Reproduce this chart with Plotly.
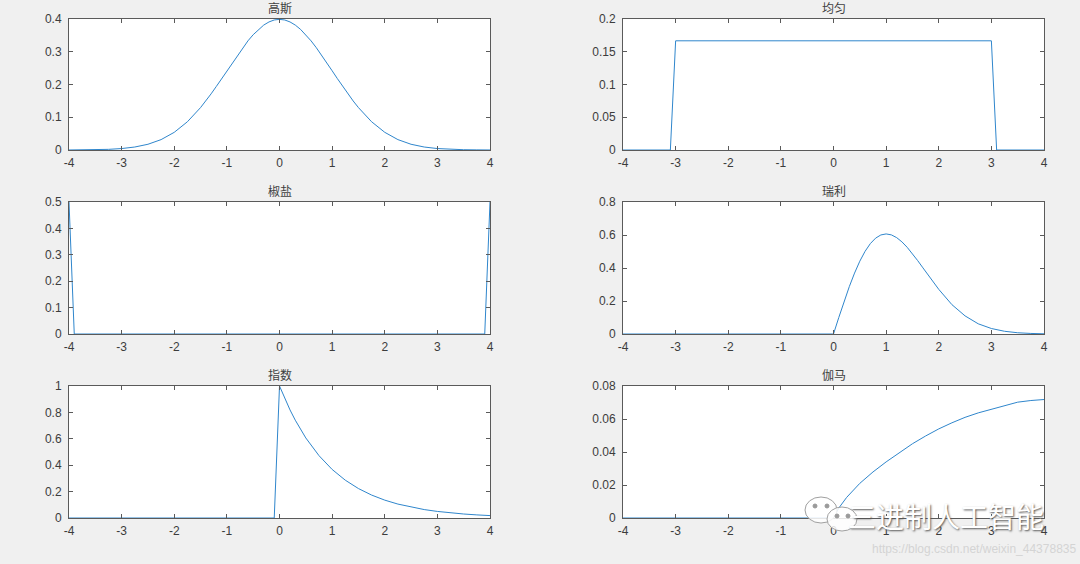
import plotly.graph_objects as go
from plotly.subplots import make_subplots

# ---- data ----
titles = ["高斯", "均匀", "椒盐", "瑞利", "指数", "伽马"]

gauss_x = [-4, -3.75, -3.5, -3.25, -3, -2.75, -2.5, -2.25, -2, -1.75, -1.5, -1.4, -1.3,
           -1.2, -1.1, -1, -0.9, -0.8, -0.7, -0.6, -0.5, -0.4, -0.3, -0.2, -0.1, 0,
           0.1, 0.2, 0.3, 0.4, 0.5, 0.6, 0.7, 0.8, 0.9, 1, 1.1, 1.2, 1.3, 1.4, 1.5,
           1.75, 2, 2.25, 2.5, 2.75, 3, 3.25, 3.5, 3.75, 4]
gauss_y = [0.0001, 0.0004, 0.0009, 0.002, 0.0044, 0.0091, 0.0175, 0.0317, 0.054, 0.0863,
           0.1295, 0.1497, 0.1714, 0.1942, 0.2179, 0.242, 0.2661, 0.2897, 0.3123, 0.3332,
           0.3521, 0.3683, 0.3814, 0.391, 0.397, 0.3989,
           0.397, 0.391, 0.3814, 0.3683, 0.3521, 0.3332, 0.3123, 0.2897, 0.2661, 0.242,
           0.2179, 0.1942, 0.1714, 0.1497, 0.1295,
           0.0863, 0.054, 0.0317, 0.0175, 0.0091, 0.0044, 0.002, 0.0009, 0.0004, 0.0001]

unif_x = [-4, -3.1, -3, 3, 3.1, 4]
unif_y = [0, 0, 0.1667, 0.1667, 0, 0]

salt_x = [-4, -3.9, 3.9, 4]
salt_y = [0.5, 0, 0, 0.5]

rayl_x = [-4, 0, 0.1, 0.2, 0.3, 0.4, 0.5, 0.6, 0.7, 0.8, 0.9, 1, 1.1, 1.2, 1.3, 1.4, 1.5,
          1.6, 1.7, 1.8, 1.9, 2, 2.25, 2.5, 2.75, 3, 3.25, 3.5, 3.75, 4]
rayl_y = [0, 0, 0.0995, 0.196, 0.2869, 0.3692, 0.4412, 0.5012, 0.5479, 0.5809, 0.6003,
          0.6065, 0.6007, 0.5842, 0.5585, 0.5254, 0.487, 0.4448, 0.4007, 0.3562, 0.3125,
          0.2707, 0.1779, 0.1098, 0.0618, 0.0333, 0.0165, 0.0076, 0.0034, 0.0013]

expo_x = [-4, -0.1, 0, 0.1, 0.2, 0.3, 0.4, 0.5, 0.75, 1, 1.25, 1.5, 1.75, 2, 2.25, 2.5,
          2.75, 3, 3.25, 3.5, 3.75, 4]
expo_y = [0, 0, 1, 0.9048, 0.8187, 0.7408, 0.6703, 0.6065, 0.4724, 0.3679, 0.2865, 0.2231,
          0.1738, 0.1353, 0.1054, 0.0821, 0.0639, 0.0498, 0.0388, 0.0302, 0.0235, 0.0183]

gamma_x = [-4, 0, 0.1, 0.25, 0.5, 0.75, 1, 1.25, 1.5, 1.75, 2, 2.25, 2.5, 2.75, 3, 3.25,
           3.5, 3.75, 4]
gamma_y = [0, 0, 0.006, 0.0125, 0.021, 0.0279, 0.034, 0.0397, 0.045, 0.0497, 0.054,
           0.0577, 0.061, 0.0637, 0.066, 0.0683, 0.0702, 0.0712, 0.0718]

x_ticks = [-4, -3, -2, -1, 0, 1, 2, 3, 4]
x_tick_text = ["-4", "-3", "-2", "-1", "0", "1", "2", "3", "4"]

y_ranges = [[0, 0.4], [0, 0.2], [0, 0.5], [0, 0.8], [0, 1], [0, 0.08]]
y_dticks = [0.1, 0.05, 0.1, 0.2, 0.2, 0.02]

series = [(gauss_x, gauss_y), (unif_x, unif_y), (salt_x, salt_y),
          (rayl_x, rayl_y), (expo_x, expo_y), (gamma_x, gamma_y)]

# ---- figure ----
W, H = 1080, 564
fig = make_subplots(rows=3, cols=2)

col_px = [(69, 490), (623, 1044)]
row_px = [(19, 150), (202, 334), (386, 518)]

axis_col = "#5a5a5a"
tick_font = dict(family="Liberation Sans, Arial, sans-serif", size=12, color="#3c3c3c")

for i, (xs, ys) in enumerate(series):
    r, c = i // 2 + 1, i % 2 + 1
    fig.add_trace(
        go.Scatter(x=xs, y=ys, mode="lines",
                   line=dict(color="#2f86cc", width=1), showlegend=False,
                   hoverinfo="skip"),
        row=r, col=c,
    )
    x0, x1 = col_px[c - 1]
    top, bot = row_px[r - 1]
    fig.update_xaxes(
        domain=[x0 / W, x1 / W], range=[-4, 4],
        tickvals=x_ticks, ticktext=x_tick_text,
        showline=True, linecolor=axis_col, linewidth=1, mirror="allticks",
        ticks="inside", ticklen=4, tickcolor=axis_col, tickfont=tick_font,
        ticklabelstandoff=2,
        showgrid=False, zeroline=False, automargin=False,
        row=r, col=c,
    )
    fig.update_yaxes(
        domain=[1 - bot / H, 1 - top / H], range=y_ranges[i],
        tick0=0, dtick=y_dticks[i],
        showline=True, linecolor=axis_col, linewidth=1, mirror="allticks",
        ticks="inside", ticklen=4, tickcolor=axis_col, tickfont=tick_font,
        ticklabelstandoff=4,
        showgrid=False, zeroline=False, automargin=False,
        row=r, col=c,
    )
    fig.add_annotation(
        text=titles[i], xref="paper", yref="paper",
        x=(x0 + x1) / 2 / W, y=1 - top / H + 1 / H,
        xanchor="center", yanchor="bottom", showarrow=False,
        font=dict(family="Noto Sans CJK SC", size=12, color="#404040"),
    )

# watermark: WeChat-like bubbles (with eyes), brand text and url
def px_circle(cx, cy, rx, ry, fill, line_col):
    fig.add_shape(type="circle", xref="paper", yref="paper",
                  x0=(cx - rx) / W, x1=(cx + rx) / W,
                  y0=1 - (cy + ry) / H, y1=1 - (cy - ry) / H,
                  fillcolor=fill, line=dict(color=line_col, width=1))

px_circle(821, 510, 16, 13, "rgba(255,255,255,0.85)", "#a0a0a0")
px_circle(815, 506, 2, 2, "#9a9a9a", "#9a9a9a")
px_circle(827, 506, 2, 2, "#9a9a9a", "#9a9a9a")
px_circle(842, 519, 15, 12, "rgba(255,255,255,0.85)", "#a0a0a0")
px_circle(837, 516, 2, 2, "#9a9a9a", "#9a9a9a")
px_circle(848, 516, 2, 2, "#9a9a9a", "#9a9a9a")

fig.add_annotation(
    text="三进制人工智能", xref="paper", yref="paper",
    x=1046 / W, y=1 - 516 / H, xanchor="right", yanchor="middle", showarrow=False,
    font=dict(family="Noto Sans CJK SC", size=28, color="#ffffff",
              shadow="1px 1px 2px #555555"),
)
fig.add_annotation(
    text="https://blog.csdn.net/weixin_44378835", xref="paper", yref="paper",
    x=1078 / W, y=1 - 549 / H, xanchor="right", yanchor="middle", showarrow=False,
    font=dict(family="Liberation Sans, Arial, sans-serif", size=12, color="#d4d4d4"),
)

fig.update_layout(
    width=W, height=H,
    margin=dict(l=0, r=0, t=0, b=0, autoexpand=False),
    paper_bgcolor="#f0f0f0",
    plot_bgcolor="#ffffff",
)

fig.write_html(
    "out.html",
    config={"displayModeBar": False},
    post_script="document.documentElement.style.margin='0';"
                "document.body.style.margin='0';"
                "document.body.style.overflow='hidden';",
)
